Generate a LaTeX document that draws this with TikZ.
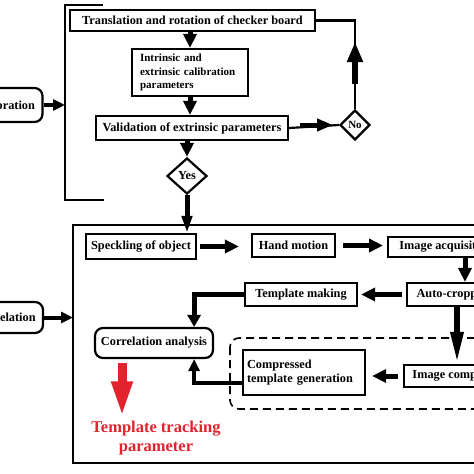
\documentclass[tikz,border=0pt]{standalone}
\usepackage{fontspec}
\setmainfont{Liberation Serif}
\usetikzlibrary{arrows.meta,shapes.geometric,calc}
\definecolor{outred}{RGB}{225,35,45}
\begin{document}
\begin{tikzpicture}[x=1pt,y=-1pt,
  txt/.style={font=\bfseries\fontsize{12.3}{13.8}\selectfont},
  blk/.style={txt,draw,line width=2.2pt,fill=white,inner sep=0pt},
  rbox/.style={blk,rounded corners=8pt},
  dia/.style={txt,draw,line width=2.2pt,fill=white,shape=diamond,inner sep=0pt},
  conn/.style={line width=2.2pt},
  fat/.style={line width=5pt,-{Triangle[length=14pt,width=13pt]}},
  fatlong/.style={line width=6pt,-{Triangle[length=32pt,width=12pt]}},
  thinfat/.style={line width=4pt,-{Triangle[length=12pt,width=11pt]}},
  dashbox/.style={line width=1.6pt,dash pattern=on 8pt off 5pt,rounded corners=9pt}
]
\useasboundingbox (0,0) rectangle (474,474);
\clip (0,0) rectangle (474,474);
\fill[white] (0,0) rectangle (474,474);

% ---------- calibration stage ----------
\coordinate (brTop) at (103,5);
\coordinate (brTL) at (65,5);
\coordinate (brBL) at (65,200);
\coordinate (brBot) at (104,200);
\coordinate (brIn) at (65,105);
\draw[conn] (brTop) -- (brTL) -- (brBL) -- (brBot);

\node[rbox,minimum width=76,minimum height=34] (calib) at (4.5,105) {Calibration};
\draw[thinfat] (calib.east) -- (brIn);

\node[blk,minimum width=245,minimum height=21] (trans) at (192.5,20.5) {Translation and rotation of checker board};
\node[blk,minimum width=116,minimum height=47,align=left,text width=100,inner xsep=8pt,font=\bfseries\fontsize{11}{13.5}\selectfont] (intr) at (190,72.5) {Intrinsic and\\extrinsic calibration\\parameters};
\node[blk,minimum width=192,minimum height=24] (valid) at (192,128) {Validation of extrinsic parameters};
\node[dia,minimum width=30,minimum height=30,font=\bfseries\fontsize{11}{12}\selectfont] (no) at (355,125) {No};
\node[dia,minimum width=40,minimum height=36] (yes) at (187,176) {Yes};

\draw[fat] (trans.south -| intr.north) -- (intr.north);
\draw[fat] (intr.south) -- (intr.south |- valid.north);
\draw[fat] (valid.south -| yes.north) -- (yes.north);

\draw[conn] (valid.east) -- (no.west);
\coordinate (vnA) at (300,125);
\coordinate (vnB) at (333,125);
\draw[line width=5pt,-{Triangle[length=16pt,width=12pt]}] (vnA) -- (vnB);

\draw[conn] (no.north) |- (trans.east);
\coordinate (noA) at (355,84);
\coordinate (noB) at (355,42);
\draw[line width=6pt,-{Triangle[length=20pt,width=15pt]}] (noA) -- (noB);

% ---------- second stage ----------
\coordinate (bigTL) at (73,225);
\coordinate (bigBR) at (495,463);
\coordinate (bigIn) at (73,317.5);
\draw[conn] (bigTL) rectangle (bigBR);

\node[rbox,minimum width=76,minimum height=31] (corrl) at (5,317.5) {Correlation};
\draw[thinfat] (corrl.east) -- (bigIn);

\node[blk,minimum width=110,minimum height=25] (speck) at (141,246.5) {Speckling of object};
\draw[line width=5pt,-{Triangle[length=17pt,width=10pt]}] (yes.south) -- (yes.south |- speck.north);

\node[blk,minimum width=83,minimum height=23] (hand) at (293.5,245.5) {Hand motion};
\node[blk,minimum width=116,minimum height=20,anchor=west] (acq) at (387,247) {Image acquisition};
\node[blk,minimum width=96,minimum height=23,anchor=west] (auto) at (406,294.5) {Auto-cropping};
\node[blk,minimum width=112,minimum height=23] (tmpl) at (301,294.5) {Template making};
\node[rbox,minimum width=118,minimum height=30] (corr) at (154,343) {Correlation analysis};

\draw[dashbox] (230,338) rectangle (500,409);
\node[blk,minimum width=122,minimum height=45,align=left,text width=114,inner xsep=4pt] (comp) at (304,372.5) {Compressed\\template generation};
\node[blk,minimum width=118,minimum height=22,anchor=west] (icomp) at (403,376) {Image compression};

\draw[fat,shorten <=3pt,shorten >=12pt] (speck.east) -- (speck.east -| hand.west);
\draw[fat,shorten <=7pt,shorten >=4pt] (hand.east) -- (hand.east -| acq.west);
\draw[fat] ($(acq.south west)+(78,0)$) -- ($(auto.north west)+(59,0)$);
\draw[fat,shorten <=4pt,shorten >=3pt] (auto.west) -- (auto.west -| tmpl.east);
\draw[line width=5pt,-{Triangle[length=12pt,width=13pt]}] (tmpl.west) -| ($(corr.north east)+(-20,0)$);
\draw[fatlong] ($(auto.south west)+(51,0)$) -- ($(icomp.north west)+(54,0)$);
\draw[fat,shorten <=5pt,shorten >=6pt] (icomp.west) -- (icomp.west -| comp.east);
\draw[thinfat] (comp.west |- 0,383) -| ($(corr.south east)+(-20,0)$);

% ---------- output ----------
\coordinate (redA) at (122,363);
\node[txt,text=outred,align=center,font=\bfseries\fontsize{16.5}{19}\selectfont] (out) at (156,438) {Template tracking\\parameter};
\draw[outred,line width=9pt,-{Triangle[length=36pt,width=19pt]}] (redA) -- (redA |- out.north);
\end{tikzpicture}
\end{document}
